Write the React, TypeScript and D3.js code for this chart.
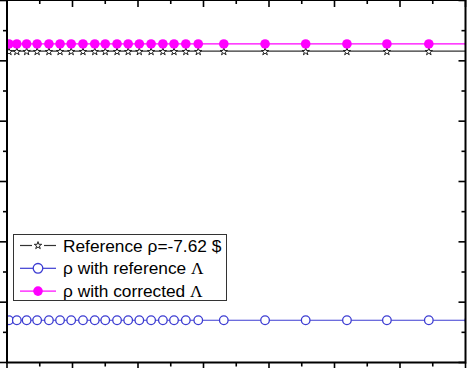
import React, { useEffect, useRef } from "react";
import * as d3 from "d3";

// x positions shared by all three series (arbitrary units, axis 0..7)
const xValues = [
  0.03, 0.15, 0.3, 0.46, 0.64, 0.81, 0.98, 1.16, 1.34, 1.5, 1.68, 1.85, 2.02,
  2.2, 2.38, 2.55, 2.73, 2.92, 3.31, 3.94, 4.56, 5.19, 5.8, 6.44, 7.06,
];
const referenceRho = xValues.map(() => 5.16);
const rhoWithReference = xValues.map(() => 0.7);
const rhoWithCorrected = xValues.map(() => 5.28);

const legendLabels = [
  { pre: "Reference ", greek: "ρ", post: "=-7.62 $", lambda: false },
  { pre: "", greek: "ρ", post: " with reference ", lambda: true },
  { pre: "", greek: "ρ", post: " with corrected ", lambda: true },
];

const W = 474,
  H = 368;
const plot = { left: 7, right: 465.5, top: 0.5, bottom: 362.5 };

export default function App() {
  const ref = useRef<SVGSVGElement>(null);

  useEffect(() => {
    const svg = d3.select(ref.current);
    svg.selectAll("*").remove();

    const x = d3.scaleLinear().domain([0, 7]).range([plot.left, plot.right]);
    const y = d3.scaleLinear().domain([0, 6]).range([plot.bottom, plot.top]);

    svg
      .append("defs")
      .append("clipPath")
      .attr("id", "plotclip")
      .append("rect")
      .attr("x", plot.left)
      .attr("y", plot.top)
      .attr("width", plot.right - plot.left)
      .attr("height", plot.bottom - plot.top);

    const g = svg.append("g").attr("clip-path", "url(#plotclip)");
    const line = (vals: number[]) =>
      d3
        .line<number>()
        .x((d, i) => x(xValues[i]))
        .y((d) => y(d))(vals);

    // black reference line + stars
    g.append("path")
      .attr("d", line(referenceRho))
      .attr("fill", "none")
      .attr("stroke", "#333")
      .attr("stroke-width", 1.2);
    const star = d3.symbol().type(d3.symbolStar).size(17)();
    g.selectAll(".star")
      .data(referenceRho)
      .join("path")
      .attr("d", star)
      .attr("transform", (d, i) => `translate(${x(xValues[i])},${y(d) + 0.5})`)
      .attr("fill", "white")
      .attr("stroke", "#222")
      .attr("stroke-width", 1);

    // blue open circles
    g.append("path")
      .attr("d", line(rhoWithReference))
      .attr("fill", "none")
      .attr("stroke", "#3c3cd2")
      .attr("stroke-width", 1.2);
    g.selectAll(".bc")
      .data(rhoWithReference)
      .join("circle")
      .attr("cx", (d, i) => x(xValues[i]))
      .attr("cy", (d) => y(d))
      .attr("r", 4.3)
      .attr("fill", "white")
      .attr("stroke", "#3c3cd2")
      .attr("stroke-width", 1.3);

    // magenta filled circles
    g.append("path")
      .attr("d", line(rhoWithCorrected))
      .attr("fill", "none")
      .attr("stroke", "#ff00ff")
      .attr("stroke-width", 1.2);
    g.selectAll(".mc")
      .data(rhoWithCorrected)
      .join("circle")
      .attr("cx", (d, i) => x(xValues[i]))
      .attr("cy", (d) => y(d))
      .attr("r", 4.8)
      .attr("fill", "#ff00ff");

    // frame
    svg
      .append("rect")
      .attr("x", plot.left)
      .attr("y", plot.top - 0.5)
      .attr("width", plot.right - plot.left)
      .attr("height", plot.bottom - plot.top + 0.5)
      .attr("fill", "none")
      .attr("stroke", "black")
      .attr("stroke-width", 2);

    // ticks
    const xt = d3.range(0, 7.01, 0.5);
    const yt = d3.range(0, 6.01, 0.5);
    const len = (v: number) => (Number.isInteger(v) ? 7 : 4);
    const tk = svg.append("g").attr("stroke", "black").attr("stroke-width", 1.6);
    xt.forEach((v) => {
      tk.append("line")
        .attr("x1", x(v)).attr("x2", x(v))
        .attr("y1", plot.bottom).attr("y2", plot.bottom + len(v));
      tk.append("line")
        .attr("x1", x(v)).attr("x2", x(v))
        .attr("y1", 0).attr("y2", len(v));
    });
    yt.forEach((v) => {
      tk.append("line")
        .attr("x1", plot.left).attr("x2", plot.left - len(v))
        .attr("y1", y(v)).attr("y2", y(v));
      tk.append("line")
        .attr("x1", plot.right).attr("x2", plot.right - len(v))
        .attr("y1", y(v)).attr("y2", y(v));
    });

    // legend
    const lg = svg.append("g");
    lg.append("rect")
      .attr("x", 13.5)
      .attr("y", 234.5)
      .attr("width", 213)
      .attr("height", 66)
      .attr("fill", "white")
      .attr("stroke", "#333")
      .attr("stroke-width", 1);
    const colors = ["#333", "#3c3cd2", "#ff00ff"];
    legendLabels.forEach((l, i) => {
      const cy = 245.5 + i * 22.8;
      const mx = 38;
      const gap = i === 0 ? 6 : 0;
      lg.append("line")
        .attr("x1", 20).attr("x2", mx - gap)
        .attr("y1", cy).attr("y2", cy)
        .attr("stroke", colors[i])
        .attr("stroke-width", 1.2);
      lg.append("line")
        .attr("x1", mx + gap).attr("x2", 56)
        .attr("y1", cy).attr("y2", cy)
        .attr("stroke", colors[i])
        .attr("stroke-width", 1.2);
      if (i === 0) {
        lg.append("path")
          .attr("d", star)
          .attr("transform", `translate(${mx},${cy})`)
          .attr("fill", "white")
          .attr("stroke", "#222");
      } else if (i === 1) {
        lg.append("circle")
          .attr("cx", mx).attr("cy", cy).attr("r", 4.8)
          .attr("fill", "white")
          .attr("stroke", colors[i])
          .attr("stroke-width", 1.3);
      } else {
        lg.append("circle")
          .attr("cx", mx).attr("cy", cy).attr("r", 4.8)
          .attr("fill", colors[i]);
      }
      const t = lg.append("text")
        .attr("x", 63)
        .attr("y", cy + 6)
        .attr("font-family", "Liberation Sans, Arial, sans-serif")
        .attr("font-size", 17.3)
        .attr("fill", "black");
      if (l.pre) t.append("tspan").text(l.pre);
      t.append("tspan").text(l.greek);
      t.append("tspan").text(l.post);
      if (l.lambda)
        t.append("tspan")
          .attr("font-family", "Liberation Serif, Times New Roman, serif")
          .text("Λ");
    });
  }, []);

  return (
    <svg
      ref={ref}
      width={W}
      height={H}
      style={{ position: "absolute", left: 0, top: 0, background: "white" }}
    />
  );
}
